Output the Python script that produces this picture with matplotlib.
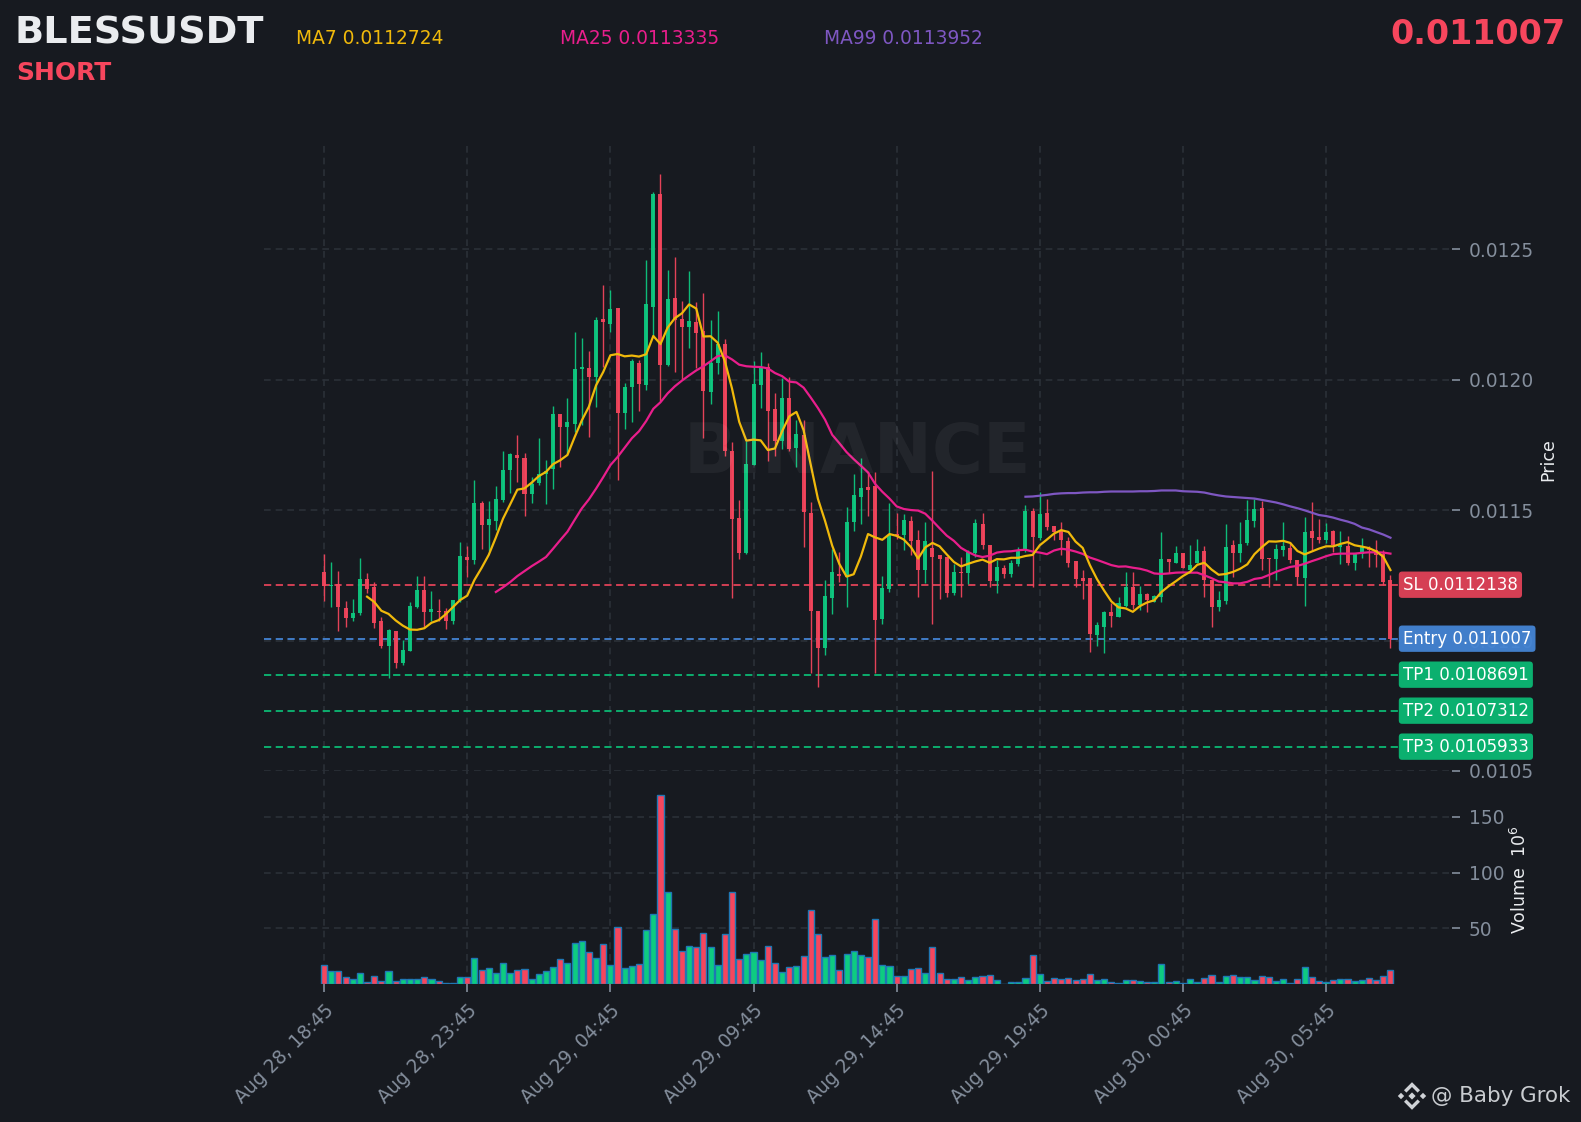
import matplotlib
matplotlib.use("Agg")
import matplotlib.pyplot as plt
from matplotlib.patches import Polygon
import numpy as np

# prices below are in units of 0.000001 USDT, volume in millions
opens = [11263, 11210, 11216, 11125, 11086, 11106, 11235, 11205, 11074, 10979,
         11036, 10914, 10961, 11129, 11193, 11110, 11113, 11113, 11074, 11155,
         11320, 11309, 11527, 11443, 11458, 11539, 11654, 11710, 11700, 11561,
         11603, 11639, 11659, 11867, 11819, 11829, 12040, 12044, 12010, 12231,
         12213, 12274, 11871, 11972, 12064, 11979, 12278, 12710, 12056, 12312,
         12231, 12201, 12221, 12185, 11953, 12064, 12136, 11726, 11469, 11337,
         11673, 11979, 12048, 11887, 11766, 11929, 11738, 11787, 11489, 11114,
         10972, 11163, 11255, 11245, 11454, 11549, 11588, 11592, 11084, 11197,
         11407, 11404, 11458, 11385, 11270, 11356, 11327, 11320, 11182, 11262,
         11258, 11335, 11446, 11366, 11228, 11278, 11255, 11293, 11347, 11496,
         11393, 11488, 11439, 11423, 11381, 11304, 11239, 11239, 11021, 11052,
         11109, 11090, 11132, 11205, 11136, 11178, 11149, 11168, 11313, 11297,
         11336, 11271, 11297, 11343, 11232, 11129, 11152, 11366, 11336, 11374,
         11458, 11508, 11315, 11313, 11347, 11356, 11309, 11240, 11420, 11397,
         11386, 11420, 11360, 11363, 11297, 11332, 11356, 11345, 11332, 11232]
highs = [11333, 11300, 11268, 11150, 11158, 11315, 11258, 11224, 11089, 11043,
         11036, 11001, 11146, 11247, 11246, 11189, 11159, 11126, 11155, 11377,
         11361, 11614, 11534, 11534, 11594, 11725, 11720, 11786, 11717, 11627,
         11775, 11691, 11898, 11867, 11931, 12181, 12158, 12111, 12238, 12363,
         12342, 12274, 11986, 12078, 12076, 12457, 12717, 12786, 12421, 12468,
         12300, 12415, 12296, 12330, 12228, 12263, 12154, 11759, 11538, 11766,
         12072, 12105, 12063, 11950, 12007, 12010, 11845, 11845, 11532, 11115,
         11231, 11350, 11341, 11511, 11638, 11698, 11647, 11647, 11247, 11528,
         11490, 11483, 11479, 11423, 11453, 11651, 11327, 11321, 11293, 11321,
         11347, 11464, 11487, 11366, 11308, 11289, 11308, 11359, 11518, 11509,
         11570, 11541, 11439, 11453, 11398, 11306, 11270, 11239, 11072, 11113,
         11145, 11168, 11261, 11264, 11209, 11184, 11174, 11415, 11313, 11363,
         11336, 11366, 11389, 11363, 11232, 11190, 11446, 11386, 11453, 11539,
         11541, 11536, 11315, 11370, 11454, 11379, 11309, 11472, 11530, 11465,
         11449, 11424, 11421, 11401, 11334, 11394, 11363, 11384, 11347, 11251]
lows = [11150, 11129, 11038, 11053, 11073, 11096, 11181, 11049, 10970, 10855,
        10896, 10908, 10961, 11126, 11047, 11073, 11073, 11045, 11065, 11146,
        11245, 11295, 11350, 11344, 11423, 11532, 11564, 11607, 11476, 11528,
        11597, 11522, 11581, 11664, 11713, 11799, 11825, 11779, 11894, 12049,
        12181, 11617, 11809, 11838, 11878, 11961, 12168, 11917, 12053, 12030,
        11997, 12122, 12043, 11775, 11907, 12023, 11706, 11162, 11313, 11330,
        11673, 11891, 11687, 11706, 11733, 11726, 11664, 11359, 10875, 10822,
        10944, 11100, 11225, 11130, 11421, 11448, 11476, 10875, 11065, 11187,
        11389, 11347, 11327, 11165, 11221, 11062, 11161, 11165, 11173, 11165,
        11215, 11321, 11349, 11204, 11181, 11238, 11242, 11285, 11340, 11206,
        11385, 11423, 11385, 11327, 11283, 11204, 11160, 10957, 10980, 10951,
        11053, 11090, 11129, 11121, 11117, 11110, 11146, 11149, 11260, 11296,
        11277, 11271, 11296, 11168, 11053, 11115, 11139, 11242, 11299, 11366,
        11434, 11271, 11204, 11230, 11324, 11296, 11213, 11134, 11347, 11373,
        11373, 11341, 11294, 11290, 11271, 11318, 11280, 11283, 11213, 10970]
closes = [11210, 11214, 11129, 11086, 11106, 11235, 11197, 11068, 10979, 11040,
          10914, 10964, 11132, 11193, 11110, 11121, 11111, 11074, 11155, 11324,
          11309, 11527, 11443, 11466, 11543, 11654, 11714, 11700, 11561, 11600,
          11640, 11650, 11867, 11819, 11837, 12040, 12048, 12010, 12228, 12221,
          12270, 11871, 11972, 12071, 11983, 12290, 12710, 12056, 12308, 12228,
          12201, 12225, 12179, 11957, 12063, 12136, 11726, 11466, 11337, 11676,
          11983, 12044, 11881, 11766, 11929, 11735, 11791, 11494, 11114, 10972,
          11171, 11263, 11249, 11454, 11557, 11585, 11577, 11080, 11201, 11404,
          11400, 11462, 11381, 11270, 11381, 11320, 11312, 11182, 11262, 11258,
          11340, 11450, 11366, 11228, 11281, 11255, 11297, 11345, 11496, 11396,
          11485, 11435, 11417, 11385, 11297, 11235, 11228, 11025, 11059, 11109,
          11094, 11142, 11205, 11136, 11178, 11155, 11170, 11313, 11299, 11336,
          11278, 11288, 11343, 11232, 11129, 11156, 11359, 11336, 11370, 11462,
          11504, 11314, 11313, 11351, 11363, 11309, 11244, 11416, 11393, 11386,
          11416, 11366, 11366, 11297, 11332, 11357, 11345, 11328, 11225, 11007]
volumes = [16.7, 11.3, 11.3, 6.5, 4.8, 9.5, 2.1, 7.4, 3.0, 11.3,
           2.7, 4.8, 4.2, 4.8, 6.0, 4.2, 3.0, 1.2, 1.2, 6.5,
           6.5, 22.9, 12.2, 14.0, 9.5, 18.5, 9.5, 12.2, 13.1, 4.8,
           8.6, 11.3, 14.9, 22.0, 18.5, 37.2, 39.0, 28.3, 22.9, 36.3,
           16.7, 51.5, 14.0, 15.8, 17.6, 48.8, 63.1, 169.3, 82.4, 49.7,
           30.0, 34.5, 33.6, 46.1, 33.6, 16.7, 45.2, 82.4, 22.0, 26.5,
           28.3, 21.1, 34.5, 18.5, 10.4, 14.9, 15.8, 24.7, 66.7, 45.2,
           23.8, 25.6, 12.2, 26.5, 30.0, 25.6, 23.8, 58.6, 16.7, 15.8,
           6.8, 6.8, 13.1, 14.0, 9.5, 33.6, 9.5, 4.2, 4.2, 6.0,
           3.3, 6.0, 6.8, 7.7, 3.3, 0.1, 1.5, 1.5, 5.0, 25.6,
           8.6, 2.4, 5.0, 4.2, 5.0, 3.3, 4.2, 8.6, 3.3, 4.2,
           1.5, 0.6, 3.3, 3.3, 2.4, 1.5, 1.5, 17.6, 1.5, 2.4,
           0.6, 4.2, 1.5, 5.0, 7.7, 1.5, 6.8, 7.7, 6.0, 6.0,
           3.3, 6.8, 6.0, 2.4, 4.2, 0.6, 4.2, 14.9, 6.0, 2.4,
           1.5, 3.3, 4.2, 4.2, 2.4, 3.3, 5.0, 3.3, 6.8, 12.2]

# moving average lines, first value sits on candle 6, 24 and 98
ma7 = [11168, 11148, 11114, 11102, 11077, 11057, 11042, 11041, 11047, 11068,
       11078, 11101, 11128, 11155, 11172, 11232, 11278, 11328, 11395, 11467,
       11522, 11578, 11583, 11605, 11630, 11646, 11676, 11691, 11711, 11779,
       11843, 11896, 11978, 12029, 12093, 12098, 12089, 12092, 12088, 12097,
       12167, 12136, 12199, 12235, 12254, 12288, 12272, 12165, 12166, 12141,
       12070, 11965, 11838, 11766, 11770, 11767, 11730, 11736, 11802, 11859,
       11876, 11806, 11673, 11543, 11458, 11363, 11293, 11245, 11254, 11322,
       11408, 11395, 11386, 11408, 11401, 11387, 11358, 11314, 11357, 11374,
       11361, 11330, 11301, 11284, 11294, 11303, 11310, 11298, 11312, 11311,
       11317, 11317, 11324, 11328, 11365, 11387, 11410, 11423, 11416, 11379,
       11355, 11289, 11235, 11191, 11150, 11127, 11123, 11110, 11132, 11146,
       11154, 11186, 11208, 11227, 11247, 11263, 11290, 11298, 11272, 11252,
       11255, 11263, 11275, 11292, 11331, 11357, 11380, 11379, 11382, 11374,
       11343, 11330, 11341, 11352, 11361, 11361, 11370, 11377, 11365, 11360,
       11354, 11342, 11321, 11270]
ma25 = [11186, 11204, 11224, 11247, 11266, 11285, 11302, 11320, 11352, 11385,
        11417, 11462, 11506, 11541, 11582, 11626, 11672, 11703, 11739, 11775,
        11802, 11841, 11888, 11913, 11947, 11974, 11996, 12016, 12035, 12051,
        12070, 12090, 12093, 12077, 12057, 12051, 12049, 12048, 12043, 12025,
        12013, 11992, 11989, 11969, 11931, 11891, 11846, 11788, 11756, 11722,
        11695, 11670, 11644, 11600, 11570, 11544, 11514, 11504, 11500, 11498,
        11486, 11459, 11430, 11402, 11382, 11355, 11339, 11326, 11320, 11325,
        11337, 11341, 11342, 11346, 11348, 11341, 11337, 11331, 11345, 11352,
        11348, 11341, 11332, 11318, 11309, 11299, 11289, 11283, 11284, 11279,
        11275, 11268, 11257, 11255, 11257, 11260, 11261, 11260, 11260, 11250,
        11239, 11226, 11223, 11219, 11219, 11225, 11236, 11240, 11251, 11263,
        11273, 11282, 11286, 11294, 11304, 11313, 11323, 11331, 11333, 11333,
        11333, 11336, 11338, 11338, 11337, 11333]
ma99 = [11551, 11552, 11555, 11558, 11562, 11564, 11565, 11565, 11567, 11568,
        11568, 11570, 11571, 11571, 11571, 11571, 11572, 11572, 11573, 11575,
        11575, 11575, 11572, 11571, 11570, 11567, 11561, 11556, 11552, 11550,
        11548, 11546, 11544, 11539, 11534, 11529, 11522, 11514, 11507, 11499,
        11490, 11481, 11477, 11471, 11463, 11456, 11447, 11433, 11426, 11416,
        11406, 11394]

tick_pos = [0, 20, 40, 60, 80, 100, 120, 140]
tick_labels = ["Aug 28, 18:45", "Aug 28, 23:45", "Aug 29, 04:45", "Aug 29, 09:45",
               "Aug 29, 14:45", "Aug 29, 19:45", "Aug 30, 00:45", "Aug 30, 05:45"]
price_ticks = [0.0105, 0.0110, 0.0115, 0.0120, 0.0125]
volume_ticks = [50, 100, 150]
level_names = ["SL", "Entry", "TP1", "TP2", "TP3"]
level_prices = ["0.0112138", "0.011007", "0.0108691", "0.0107312", "0.0105933"]

W, H = 1581, 1122
BG = "#171a20"
GREEN = "#0ecb81"
RED = "#f6465d"
GRID = "#2b3038"
TICK_TEXT = "#848e9c"
MA_COLORS = {"MA7": "#f0b90b", "MA25": "#e91e8c", "MA99": "#7e57c2"}
LEVEL_COLORS = {"SL": "#e04258", "Entry": "#4484d4", "TP1": "#0bb974", "TP2": "#0bb974", "TP3": "#0bb974"}


def axes_box(left, top, right, bottom):
    return [left / W, 1 - bottom / H, (right - left) / W, (bottom - top) / H]


o = np.array(opens) * 1e-6
h = np.array(highs) * 1e-6
l = np.array(lows) * 1e-6
c = np.array(closes) * 1e-6
x = np.arange(len(c))
colors = [GREEN if cl >= op else RED for op, cl in zip(o, c)]

fig = plt.figure(figsize=(W / 100, H / 100), dpi=100, facecolor=BG)
ax = fig.add_axes(axes_box(264, 146, 1452, 771), facecolor=BG)
vax = fig.add_axes(axes_box(264, 771, 1452, 984), facecolor=BG, sharex=ax)

# candles
ax.vlines(x, l, h, colors=colors, linewidth=1.0, alpha=0.92, zorder=3)
ax.bar(x, np.maximum(np.abs(c - o), 2.5e-6), bottom=np.minimum(o, c), width=0.56,
       color=colors, linewidth=0, alpha=0.92, zorder=3)

# moving averages
ax.plot(x[6:], np.array(ma7) * 1e-6, color=MA_COLORS["MA7"], lw=1.6, zorder=5)
ax.plot(x[24:], np.array(ma25) * 1e-6, color=MA_COLORS["MA25"], lw=1.6, zorder=4)
ax.plot(x[98:], np.array(ma99) * 1e-6, color=MA_COLORS["MA99"], lw=1.6, zorder=4)

# volume
vax.bar(x, volumes, width=0.85, color=colors, edgecolor="#1f77b4", linewidth=1.0, zorder=3)

ax.set_xlim(-8.4, 157.6)
ax.set_ylim(0.0105, 0.012895)
vax.set_ylim(0, 191.2)

# signal levels with their boxes
for name, price in zip(level_names, level_prices):
    ax.plot([-8.4, 150.2], [float(price)] * 2, color=LEVEL_COLORS[name], lw=1.3,
            ls=(0, (4, 2.5)), zorder=2.8)
    ax.text(150.75, float(price), name + " " + price, color="white", fontsize=12,
            va="center", ha="left", zorder=10, clip_on=False,
            bbox=dict(boxstyle="round,pad=0.25,rounding_size=0.2", fc=LEVEL_COLORS[name],
                      ec="none", alpha=0.95))

for a in (ax, vax):
    a.grid(True, color=GRID, ls=(0, (4, 3)), lw=1.2, zorder=0)
    a.set_axisbelow(True)
    for s in a.spines.values():
        s.set_visible(False)
    a.yaxis.tick_right()

ax.set_yticks(price_ticks)
ax.set_yticklabels(["%.4f" % p for p in price_ticks])
vax.set_yticks(volume_ticks)
vax.set_yticklabels([str(v) for v in volume_ticks])
vax.set_xticks(tick_pos)
vax.set_xticklabels(tick_labels, rotation=45, ha="right", rotation_mode="anchor")
ax.tick_params(axis="x", length=0, labelbottom=False)
ax.tick_params(axis="y", colors=TICK_TEXT, labelsize=13.4, length=6, width=1.2, pad=6)
vax.tick_params(axis="y", colors=TICK_TEXT, labelsize=13.4, length=6, width=1.2, pad=6)
vax.tick_params(axis="x", colors=TICK_TEXT, labelsize=13.4, length=6, width=1.2, pad=6)

# watermark
fig.text(857 / W, 1 - 454 / H, "BINANCE", color="white", alpha=0.05, fontsize=50,
         fontweight="bold", ha="center", va="center", zorder=1)

# header
fig.text(15 / W, 1 - 43.5 / H, "BLESSUSDT", color="#eaecef", fontsize=27.5, fontweight="bold")
fig.text(16 / W, 1 - 79.5 / H, "SHORT", color=RED, fontsize=18, fontweight="bold")
fig.text(296 / W, 1 - 43.5 / H, "MA7 0.0112724", color=MA_COLORS["MA7"], fontsize=13.4)
fig.text(560 / W, 1 - 43.5 / H, "MA25 0.0113335", color=MA_COLORS["MA25"], fontsize=13.4)
fig.text(824 / W, 1 - 43.5 / H, "MA99 0.0113952", color=MA_COLORS["MA99"], fontsize=13.4)
fig.text(1566 / W, 1 - 43.5 / H, "0.011007", color=RED, fontsize=24, fontweight="bold", ha="right")

# axis names
fig.text(1548 / W, 1 - 460 / H, "Price", color="#eaecef", fontsize=12.5, rotation=90,
         ha="center", va="center")
fig.text(1520 / W, 1 - 880 / H, r"Volume  $10^{6}$", color="#eaecef", fontsize=12.5, rotation=90,
         ha="center", va="center")

# exchange logo and handle
logo = fig.add_axes(axes_box(1397, 1082, 1427, 1110))
logo.set_xlim(-15, 15)
logo.set_ylim(-14, 14)
logo.axis("off")
logo_color = "#d0d3d7"
for cx, cy, r in [(0, 0, 3.6), (-11, 0, 3.2), (11, 0, 3.2)]:
    logo.add_patch(Polygon([(cx - r, cy), (cx, cy + r), (cx + r, cy), (cx, cy - r)], fc=logo_color, ec="none"))
for sign in (1, -1):
    logo.add_patch(Polygon([(-8, 5.8 * sign), (0, 13.8 * sign), (8, 5.8 * sign), (5.6, 3.4 * sign),
                            (0, 9 * sign), (-5.6, 3.4 * sign)], fc=logo_color, ec="none"))
fig.text(1431 / W, 1 - 1096 / H, "@ Baby Grok", color="#c9ccd0", fontsize=15.4, va="center")

fig.savefig("out.png", dpi=100, facecolor=BG)
